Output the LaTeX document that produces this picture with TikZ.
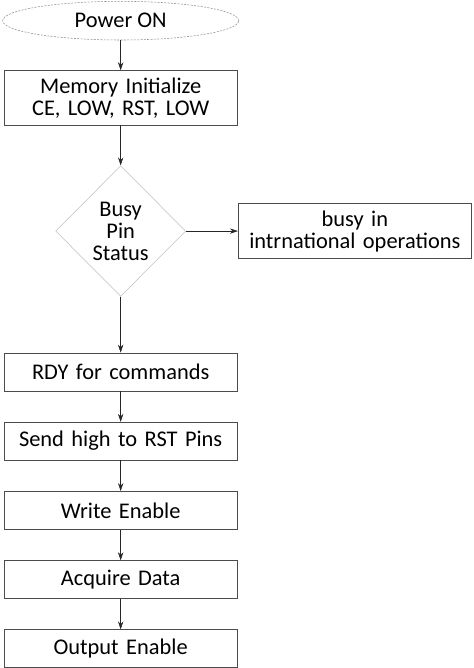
\documentclass[tikz,border=0pt]{standalone}
\usepackage{fontspec}
\setmainfont{Carlito}
\usetikzlibrary{shapes.geometric, positioning, arrows.meta}
\frenchspacing

\begin{document}
\begin{tikzpicture}[
    node distance=23pt,
    font=\fontsize{16.8pt}{16.5pt}\selectfont,
    box/.style={rectangle, draw=black!70, text width=170pt, align=center, minimum width=175pt, minimum height=28.5pt, inner sep=0pt},
    tallbox/.style={box, minimum height=41pt},
    start/.style={ellipse, draw=black!45, dash pattern=on 1.5pt off 1pt, minimum width=177pt, minimum height=29pt},
    decision/.style={diamond, draw=black!25, minimum width=97.5pt, minimum height=98pt, inner sep=0pt, align=center},
    arrow/.style={-{Stealth[length=6pt, width=4pt]}, black!85}
]
    \useasboundingbox (0,0) rectangle (355.5pt,-501pt);
    \node[start] (power) at (90.5pt,-15.5pt) {Power ON};
    \node[tallbox, below=22.5pt of power] (memory) {Memory Initialize\\CE, LOW, RST, LOW};
    \node[decision, below=30pt of memory] (status) {Busy\\Pin\\Status};
    \node[tallbox, right=39pt of status] (busy) {busy in\\intrnational operations};
    \node[box, below=42pt of status] (ready) {RDY for commands};
    \node[box, below=of ready] (reset) {Send high to RST Pins};
    \node[box, below=of reset] (write) {Write Enable};
    \node[box, below=of write] (acquire) {Acquire Data};
    \node[box, below=of acquire] (output) {Output Enable};

    \draw[arrow] (power) -- (memory);
    \draw[arrow] (memory) -- (status);
    \draw[arrow] (status) -- (busy);
    \draw[arrow] (status) -- (ready);
    \draw[arrow] (ready) -- (reset);
    \draw[arrow] (reset) -- (write);
    \draw[arrow] (write) -- (acquire);
    \draw[arrow] (acquire) -- (output);
\end{tikzpicture}
\end{document}
